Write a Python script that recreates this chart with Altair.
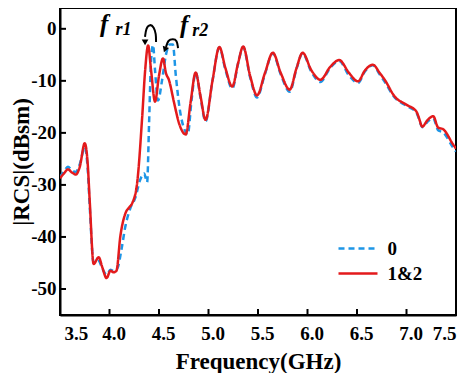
import altair as alt
import pandas as pd

# ---- data ----
freq_0 = [3.50, 3.54, 3.58, 3.62, 3.66, 3.70, 3.75, 3.78, 3.80, 3.84, 3.89, 3.93, 3.97, 4.01, 4.04, 4.08,
          4.12, 4.16, 4.21, 4.26, 4.31, 4.35, 4.38, 4.40, 4.42, 4.44, 4.46, 4.49, 4.53, 4.57, 4.61, 4.64,
          4.67, 4.71, 4.76, 4.79, 4.83, 4.87, 4.92, 4.97, 5.04, 5.11, 5.17, 5.24, 5.30, 5.35, 5.42, 5.49,
          5.57, 5.65, 5.73, 5.82, 5.89, 5.95, 6.04, 6.13, 6.23, 6.32, 6.42, 6.51, 6.58, 6.66, 6.73, 6.78,
          6.88, 7.00, 7.10, 7.12, 7.16, 7.21, 7.27, 7.32, 7.37, 7.47, 7.50]
rcs_0 = [-28.5, -27.4, -26.5, -27.2, -27.5, -26.0, -22.8, -27.0, -34.0, -45.0, -44.6, -46.2, -47.2, -46.3, -46.5, -46.0,
         -42.5, -38.0, -34.5, -32.5, -29.0, -27.8, -29.5, -18.0, -6.0, -3.1, -8.0, -13.8, -10.0, -5.0, -3.0, -3.0,
         -9.0, -15.5, -19.5, -20.3, -13.5, -8.4, -13.3, -17.8, -10.0, -3.6, -7.8, -11.5, -6.6, -3.5, -9.3, -13.2,
         -8.7, -4.7, -8.8, -12.1, -7.6, -4.7, -8.3, -10.2, -7.5, -6.2, -9.0, -10.4, -8.2, -7.0, -8.8, -10.2,
         -13.2, -14.8, -16.1, -17.0, -18.9, -17.9, -17.2, -19.5, -19.9, -22.8, -23.6]

freq_12 = [3.50, 3.54, 3.58, 3.62, 3.66, 3.70, 3.75, 3.78, 3.80, 3.84, 3.89, 3.93, 3.97, 4.01, 4.04, 4.07,
           4.11, 4.16, 4.20, 4.23, 4.28, 4.33, 4.36, 4.39, 4.42, 4.46, 4.50, 4.54, 4.57, 4.60, 4.65, 4.70,
           4.77, 4.82, 4.87, 4.92, 4.97, 5.04, 5.11, 5.17, 5.24, 5.30, 5.35, 5.42, 5.49, 5.57, 5.65, 5.73,
           5.82, 5.89, 5.95, 6.04, 6.13, 6.23, 6.32, 6.42, 6.51, 6.58, 6.66, 6.73, 6.78, 6.88, 7.00, 7.10,
           7.12, 7.16, 7.21, 7.27, 7.32, 7.37, 7.47, 7.50]
rcs_12 = [-28.7, -27.8, -27.0, -27.6, -28.0, -26.5, -22.0, -26.0, -33.0, -45.2, -43.9, -46.0, -47.9, -46.5, -46.8, -46.5,
          -39.8, -35.5, -34.3, -33.5, -29.5, -17.0, -8.0, -3.2, -8.0, -14.0, -9.0, -5.7, -8.5, -9.8, -14.0, -18.0,
          -20.3, -14.0, -8.4, -13.0, -17.5, -10.0, -3.5, -7.5, -11.1, -6.5, -3.4, -9.0, -12.8, -8.5, -4.6, -8.5,
          -11.7, -7.5, -4.6, -8.0, -9.8, -7.3, -6.0, -8.5, -10.1, -8.0, -6.9, -8.5, -9.8, -13.0, -14.6, -15.9,
          -16.8, -18.8, -17.6, -16.8, -19.0, -19.3, -22.2, -23.0]

series_names = ["0", "1&2"]
series_colors = ["#1e96e6", "#e31a1c"]

x_ticks = [3.5, 4.0, 4.5, 5.0, 5.5, 6.0, 6.5, 7.0, 7.5]
y_ticks = [0, -10, -20, -30, -40, -50]

# annotation texts (data coordinates)
ann_f_text = ["f", "f"]
ann_f_x = [3.904, 4.712]
ann_f_y = [-0.61, -0.80]
ann_sub_text = ["r1", "r2"]
ann_sub_x = [4.060, 4.835]
ann_sub_y = [-1.19, -1.38]

# curved annotation arrows (data coordinates)
arrow_id = ["a1"] * 6 + ["a2"] * 5
arrow_order = list(range(6)) + list(range(5))
arrow_x = [4.359, 4.369, 4.409, 4.449, 4.470, 4.470, 4.571, 4.591, 4.641, 4.682, 4.692]
arrow_y = [-1.57, 0.16, 0.93, 0.35, -1.0, -2.53, -3.50, -2.15, -1.95, -2.15, -3.69]
head_x = [4.359, 4.560]
head_y = [-2.6, -4.0]
head_angle = [0, 20]

# ---- build tables ----
df = pd.concat([
    pd.DataFrame({"freq": freq_0, "rcs": rcs_0, "series": series_names[0]}),
    pd.DataFrame({"freq": freq_12, "rcs": rcs_12, "series": series_names[1]}),
])
ann_f = pd.DataFrame({"t": ann_f_text, "x": ann_f_x, "y": ann_f_y})
ann_sub = pd.DataFrame({"t": ann_sub_text, "x": ann_sub_x, "y": ann_sub_y})
arrows = pd.DataFrame({"id": arrow_id, "o": arrow_order, "x": arrow_x, "y": arrow_y})
heads = pd.DataFrame({"x": head_x, "y": head_y, "a": head_angle})
xt = pd.DataFrame({"v": x_ticks[1:-1]})
yt = pd.DataFrame({"v": y_ticks})

FONT = "'Liberation Serif', 'Times New Roman', Times, serif"
W, H = 396, 307

xscale = alt.Scale(domain=[3.5, 7.5], nice=False, zero=False)
yscale = alt.Scale(domain=[-55, 4], nice=False, zero=False)

leg = dict(title=None, orient="none", legendX=283.5, legendY=226,
           symbolType="M-1.5,0H1.5", symbolSize=676, symbolStrokeWidth=2.5,
           labelFont=FONT, labelFontSize=19, labelFontWeight="bold",
           labelColor="black", labelOffset=15, rowPadding=0)

lines = alt.Chart(df).mark_line(strokeWidth=2.5, interpolate="monotone", clip=True).encode(
    x=alt.X("freq:Q", scale=xscale,
            axis=alt.Axis(title="Frequency(GHz)", values=x_ticks,
                          labelExpr="format(datum.value, '.1f')",
                          titleY=53, titleBaseline="alphabetic", labelPadding=9,
                          labelOffset={"condition": {"test": "datum.value >= 7.4", "value": 0},
                                       "value": 4})),
    y=alt.Y("rcs:Q", scale=yscale,
            axis=alt.Axis(title="|RCS|(dBsm)", values=y_ticks, labelExpr="'' + datum.value",
                          titleX=-32, titleBaseline="alphabetic", labelPadding=4)),
    color=alt.Color("series:N", scale=alt.Scale(domain=series_names, range=series_colors),
                    legend=alt.Legend(**leg)),
    strokeDash=alt.StrokeDash("series:N",
                              scale=alt.Scale(domain=series_names, range=[[6, 4], [1, 0]]),
                              legend=alt.Legend(**leg)),
)

xtick_marks = alt.Chart(xt).mark_rule(color="black", strokeWidth=2).encode(
    x=alt.X("v:Q", scale=xscale), y=alt.value(H), y2=alt.value(H - 6))
ytick_marks = alt.Chart(yt).mark_rule(color="black", strokeWidth=2).encode(
    y=alt.Y("v:Q", scale=yscale), x=alt.value(0), x2=alt.value(6))

f_text = alt.Chart(ann_f).mark_text(font=FONT, fontSize=25, fontStyle="italic", fontWeight="bold",
                                    align="left", baseline="alphabetic", color="black").encode(
    x=alt.X("x:Q", scale=xscale), y=alt.Y("y:Q", scale=yscale), text="t:N")
sub_text = alt.Chart(ann_sub).mark_text(font=FONT, fontSize=18, fontStyle="italic", fontWeight="bold",
                                        align="left", baseline="alphabetic", color="black").encode(
    x=alt.X("x:Q", scale=xscale), y=alt.Y("y:Q", scale=yscale), text="t:N")

arrow_lines = alt.Chart(arrows).mark_line(color="black", strokeWidth=2, interpolate="basis").encode(
    x=alt.X("x:Q", scale=xscale), y=alt.Y("y:Q", scale=yscale), detail="id:N", order="o:Q")
arrow_heads = alt.Chart(heads).mark_point(shape="triangle-down", filled=True, color="black",
                                          size=45, opacity=1).encode(
    x=alt.X("x:Q", scale=xscale), y=alt.Y("y:Q", scale=yscale), angle=alt.Angle("a:Q", scale=None))

chart = alt.layer(lines, xtick_marks, ytick_marks, arrow_lines, arrow_heads, f_text, sub_text).properties(
    width=W, height=H,
    autosize=alt.AutoSizeParams(type="none"),
    padding={"left": 52, "top": 0, "right": 10, "bottom": 58},
).configure_view(stroke="black", strokeWidth=2).configure_axis(
    grid=False, ticks=False, tickSize=0, domainColor="black", domainWidth=2,
    labelFont=FONT, labelFontSize=19, labelFontWeight="bold", labelColor="black",
    titleFont=FONT, titleFontSize=23, titleFontWeight="bold", titleColor="black",
)

chart.save("out.html", embed_options={"renderer": "svg", "actions": False})
